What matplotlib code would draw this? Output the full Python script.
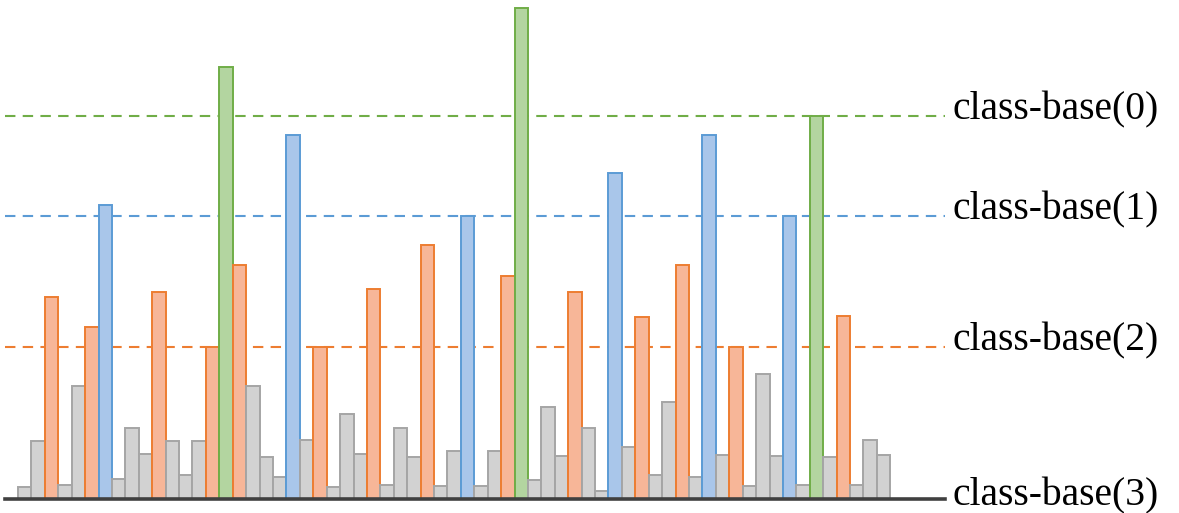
import numpy as np
import matplotlib.pyplot as plt

# bar heights (arbitrary units) and class of each bar
heights = [12, 58, 202, 14, 113, 172, 294, 20, 71, 45, 207, 58, 24, 58, 152,
           432, 234, 113, 42, 22, 364, 59, 152, 12, 85, 45, 210, 14, 71, 42,
           254, 13, 48, 283, 13, 48, 223, 491, 19, 92, 43, 207, 71, 8, 326,
           52, 182, 24, 97, 234, 22, 364, 44, 152, 13, 125, 43, 283, 14, 383,
           42, 183, 14, 59, 44]
classes = [3, 3, 2, 3, 3, 2, 1, 3, 3, 3, 2, 3, 3, 3, 2,
           0, 2, 3, 3, 3, 1, 3, 2, 3, 3, 3, 2, 3, 3, 3,
           2, 3, 3, 1, 3, 3, 2, 0, 3, 3, 3, 2, 3, 3, 1,
           3, 2, 3, 3, 2, 3, 1, 3, 2, 3, 3, 3, 1, 3, 0,
           3, 2, 3, 3, 3]
class_bases = [383, 283, 152, 0]
labels = ['class-base(0)', 'class-base(1)', 'class-base(2)', 'class-base(3)']

fills = ['#B3D5A0', '#A9C6EA', '#F7B698', '#D2D2D2']
edges = ['#70AD47', '#5B9BD5', '#ED7D31', '#A5A5A5']

W, H = 1179, 513
fig = plt.figure(figsize=(W / 100, H / 100), dpi=100)
# axes span from the left of the dashed lines to where the labels begin
ax = fig.add_axes([5 / W, (H - 499) / H, 940 / W, 499 / H])

x = np.arange(len(heights))
ax.bar(x, heights, width=1.0,
       color=[fills[c] for c in classes],
       edgecolor=[edges[c] for c in classes], linewidth=1.4, zorder=2)

for k in range(3):
    ax.axhline(class_bases[k], color=edges[k], lw=1.5, ls=(0, (5, 3.5)),
               zorder=1)
ax.axhline(0, color='#404040', lw=2.6, zorder=3, clip_on=False)

offsets = [3, 3, 3, 6]
for k in range(4):
    ax.text(953, H - (499 - class_bases[k]) - offsets[k], labels[k],
            transform=None, fontsize=28.5, family='Liberation Serif',
            va='baseline', ha='left', color='black')

ax.set_xlim(-0.5 - 13 / 13.42, -0.5 - 13 / 13.42 + 940 / 13.42)
ax.set_ylim(0, 499)
ax.axis('off')

fig.savefig('out.png', dpi=100)
